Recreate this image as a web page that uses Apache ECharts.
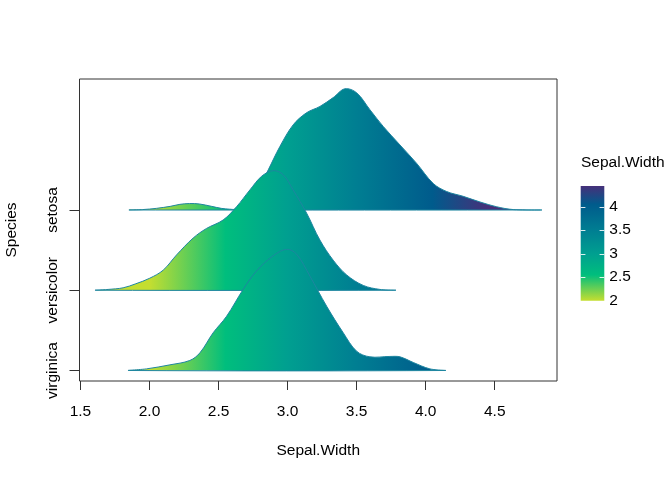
<!DOCTYPE html>
<html><head><meta charset="utf-8">
<script src="https://cdn.jsdelivr.net/npm/echarts@6/dist/echarts.min.js"></script>
<style>html,body{margin:0;padding:0;background:#fff}#c{width:672px;height:480px}</style>
</head><body><div id="c"></div>
<script>
// Categories (baseline 1 = virginica, 2 = versicolor, 3 = setosa)
const species = ['virginica', 'versicolor', 'setosa'];

// Ridge shapes (x = Sepal.Width, h = scaled density height)
const setosaX = [1.857, 1.95, 2.05, 2.15, 2.22, 2.29, 2.36, 2.45, 2.52, 2.58, 2.62, 2.68, 2.74, 2.80, 2.86, 2.944, 3.04, 3.136, 3.234, 3.33, 3.415, 3.5, 3.596, 3.693, 3.814, 3.935, 4.055, 4.152, 4.272, 4.393, 4.514, 4.635, 4.83];
const setosaH = [0, 0.005, 0.02, 0.045, 0.07, 0.08, 0.075, 0.045, 0.02, 0.01, 0.01, 0.06, 0.16, 0.30, 0.50, 0.79, 1.06, 1.21, 1.29, 1.40, 1.51, 1.46, 1.25, 1.04, 0.81, 0.58, 0.33, 0.23, 0.17, 0.10, 0.04, 0.005, 0];

const versicolorX = [1.611, 1.7, 1.809, 1.9, 2.002, 2.099, 2.196, 2.316, 2.413, 2.533, 2.63, 2.727, 2.812, 2.896, 2.968, 3.04, 3.138, 3.234, 3.33, 3.428, 3.548, 3.669, 3.778];
const versicolorH = [0, 0.01, 0.03, 0.08, 0.15, 0.25, 0.44, 0.65, 0.77, 0.875, 1.04, 1.25, 1.42, 1.49, 1.44, 1.25, 0.96, 0.625, 0.375, 0.19, 0.06, 0.01, 0];

const virginicaX = [1.852, 1.978, 2.147, 2.292, 2.365, 2.461, 2.558, 2.678, 2.775, 2.896, 2.993, 3.065, 3.162, 3.283, 3.403, 3.5, 3.596, 3.741, 3.814, 3.91, 4.031, 4.14];
const virginicaH = [0, 0.02, 0.07, 0.125, 0.22, 0.47, 0.675, 1.01, 1.24, 1.43, 1.51, 1.45, 1.175, 0.8, 0.47, 0.24, 0.17, 0.175, 0.17, 0.1, 0.02, 0];

// Axis ticks
const xTicks = [1.5, 2.0, 2.5, 3.0, 3.5, 4.0, 4.5];
const yTicks = [1, 2, 3];
const legendTicks = [2, 2.5, 3, 3.5, 4];
const legendMin = 2.0;
const legendMax = 4.44;

// Colour scale (value -> colour)
const paletteValues = [2.0, 2.55, 3.0, 3.5, 4.05, 4.45];
const paletteColors = ['#C4DE30', '#00BE7D', '#009F90', '#007E92', '#005B8C', '#46307A'];

const outlineColor = '#1E86A0';
const FONT = 'Liberation Sans, Arial, sans-serif';
const FS = 15.5;

const ridges = [
  { base: 3, x: setosaX, h: setosaH },
  { base: 2, x: versicolorX, h: versicolorH },
  { base: 1, x: virginicaX, h: virginicaH }
];

function ridgeSeries(r) {
  return {
    type: 'custom',
    xAxisIndex: 0, yAxisIndex: 0,
    data: [[r.x[0], r.base]],
    encode: { x: 0, y: 1 },
    silent: true,
    renderItem: function (params, api) {
      const pts = [];
      for (let i = 0; i < r.x.length; i++) {
        pts.push(api.coord([r.x[i], r.base + r.h[i]]));
      }
      const x0 = api.coord([paletteValues[0], r.base])[0];
      const x1 = api.coord([paletteValues[paletteValues.length - 1], r.base])[0];
      const span = paletteValues[paletteValues.length - 1] - paletteValues[0];
      const stops = paletteValues.map((v, i) => ({ offset: (v - paletteValues[0]) / span, color: paletteColors[i] }));
      const grad = new echarts.graphic.LinearGradient(x0, 0, x1, 0, stops, true);
      return {
        type: 'polygon',
        shape: { points: pts, smooth: 0.35 },
        style: { fill: grad, stroke: outlineColor, lineWidth: 1 }
      };
    }
  };
}

const legendSeries = {
  type: 'custom',
  xAxisIndex: 1, yAxisIndex: 1,
  data: [[0.5, 3]],
  encode: { x: 0, y: 1 },
  silent: true,
  renderItem: function (params, api) {
    const p0 = api.coord([0, legendMax]);
    const p1 = api.coord([1, legendMin]);
    const span = legendMax - legendMin;
    const stops = paletteValues.map((v, i) => ({ offset: Math.min(1, Math.max(0, (v - legendMin) / span)), color: paletteColors[i] }));
    const grad = new echarts.graphic.LinearGradient(0, 1, 0, 0, stops);
    const w = p1[0] - p0[0];
    const children = [{
      type: 'rect',
      shape: { x: p0[0], y: p0[1], width: w, height: p1[1] - p0[1] },
      style: { fill: grad }
    }];
    legendTicks.forEach(t => {
      const y = Math.round(api.coord([0, t])[1]) + 0.5;
      children.push({ type: 'line', shape: { x1: p0[0], y1: y, x2: p0[0] + w / 5, y2: y }, style: { stroke: 'rgba(255,255,255,0.85)', lineWidth: 1 } });
      children.push({ type: 'line', shape: { x1: p1[0] - w / 5, y1: y, x2: p1[0], y2: y }, style: { stroke: 'rgba(255,255,255,0.85)', lineWidth: 1 } });
    });
    return { type: 'group', children: children };
  }
};

const chart = echarts.init(document.getElementById('c'), null, { renderer: 'canvas' });
chart.setOption({
  animation: false,
  backgroundColor: '#fff',
  textStyle: { fontFamily: FONT },
  title: {
    text: 'Sepal.Width', left: 581, top: 155, padding: 0,
    textStyle: { fontFamily: FONT, fontSize: FS, fontWeight: 'normal', color: '#000' }
  },
  grid: [
    { left: 79.5, right: 115, top: 79, bottom: 99, show: true, borderColor: '#333', borderWidth: 1, backgroundColor: 'transparent', containLabel: false, outerBoundsMode: 'none' },
    { left: 580.7, width: 23.6, top: 186, height: 114.7, containLabel: false, outerBoundsMode: 'none' }
  ],
  xAxis: [
    {
      gridIndex: 0, type: 'value', min: 1.493, max: 4.951,
      name: 'Sepal.Width', nameLocation: 'middle', nameGap: 62,
      nameTextStyle: { fontFamily: FONT, fontSize: FS, color: '#000' },
      axisLine: { show: false },
      axisTick: { show: true, length: 9, customValues: xTicks, lineStyle: { color: '#333' } },
      axisLabel: { customValues: xTicks, formatter: v => v.toFixed(1), fontFamily: FONT, fontSize: FS, color: '#000', margin: 23 },
      splitLine: { show: false }
    },
    { gridIndex: 1, type: 'value', min: 0, max: 1, show: false }
  ],
  yAxis: [
    {
      gridIndex: 0, type: 'value', min: 0.869, max: 4.632,
      name: 'Species', nameLocation: 'middle', nameGap: 60, nameRotate: 90,
      nameTextStyle: { fontFamily: FONT, fontSize: FS, color: '#000' },
      axisLine: { show: false },
      axisTick: { show: true, length: 10, customValues: yTicks, lineStyle: { color: '#333' } },
      axisLabel: { customValues: yTicks, rotate: 90, formatter: v => species[Math.round(v) - 1], fontFamily: FONT, fontSize: FS, color: '#000', margin: 19 },
      splitLine: { show: false }
    },
    {
      gridIndex: 1, type: 'value', min: legendMin, max: legendMax, position: 'right',
      axisLine: { show: false }, axisTick: { show: false }, splitLine: { show: false },
      axisLabel: { customValues: legendTicks, formatter: v => String(v), fontFamily: FONT, fontSize: FS, color: '#000', margin: 5 }
    }
  ],
  series: ridges.map(ridgeSeries).concat([legendSeries])
});
</script>
</body></html>
